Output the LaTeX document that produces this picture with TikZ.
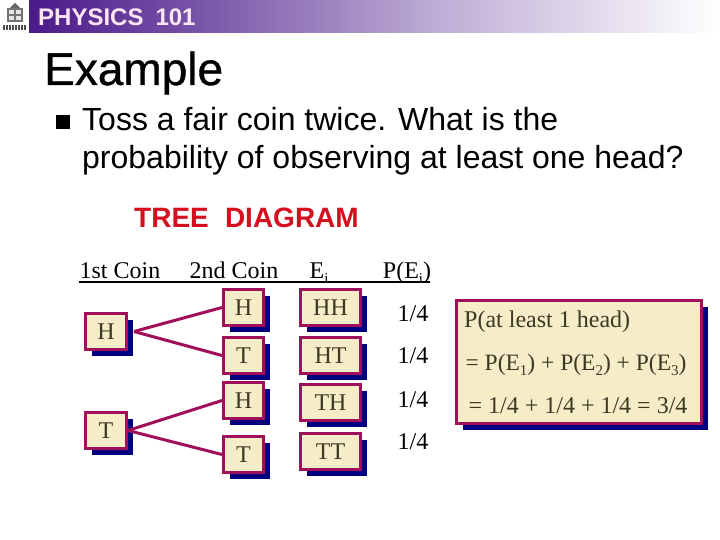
\documentclass[tikz,border=0pt]{standalone}
\usepackage{fontspec}
\setmainfont{Liberation Serif}
\newfontfamily\headfont{Liberation Sans}
\newfontfamily\titlefont[FakeBold=0.8]{Liberation Sans}
\usepackage{tikz}
\usetikzlibrary{shadows}
\definecolor{rimcol}{RGB}{160,16,90}
\definecolor{boxcol}{RGB}{245,236,200}
\definecolor{inkcol}{RGB}{60,56,36}
\definecolor{navycol}{RGB}{0,0,128}
\definecolor{bandcol}{RGB}{74,26,138}
\definecolor{treecol}{RGB}{212,16,30}
\pgfdeclarehorizontalshading{bandfade}{100bp}{color(0bp)=(bandcol); color(25bp)=(bandcol); color(37bp)=(bandcol!75!white); color(55bp)=(bandcol!35!white); color(75bp)=(white); color(100bp)=(white)}
\newcommand{\lowsub}[1]{\raisebox{-5pt}{\fontsize{15}{15}\selectfont #1}}

\begin{document}
\begin{tikzpicture}[x=1pt,y=-1pt]
\tikzstyle{coin} = [draw=rimcol, line width=3pt, fill=boxcol, text=inkcol, font=\fontsize{24}{24}\selectfont, inner sep=0pt, anchor=north west, drop shadow={shadow xshift=6pt, shadow yshift=-6pt, fill=navycol, opacity=1}]
\tikzstyle{link} = [draw=rimcol, line width=3pt]
\tikzstyle{head} = [font=\fontsize{24}{24}\selectfont, anchor=base, inner sep=0pt]
\tikzstyle{prob} = [font=\fontsize{24}{24}\selectfont, anchor=base, inner sep=0pt]
\useasboundingbox (0,0) rectangle (720,540);
\fill[white] (0,0) rectangle (720,540);
% top band
\shade[shading=bandfade] (29,1) rectangle (720,33);
\node[font=\headfont\bfseries\fontsize{24}{24}\selectfont, text=white!90!magenta, anchor=base west, inner sep=0pt] (band) at (38,26) {PHYSICS\hspace{0.5em}101};
% logo
\fill[black!60] (15,3) -- (20,8) -- (10,8) -- cycle;
\draw[black!55, line width=1.5pt, fill=black!10] (8,9) rectangle (22,21);
\draw[black!55, line width=1.5pt] (15,9) -- (15,21) (8,15) -- (22,15);
\draw[black!70, line width=5pt, dash pattern=on 2pt off 1pt] (3,28) -- (26,28);
% title
\node[font=\titlefont\fontsize{46}{46}\selectfont, anchor=base west, inner sep=0pt] (title) at (44,85) {Example};
\fill (56,115) rectangle (70,129);
\node[font=\headfont\fontsize{32}{38}\selectfont, anchor=base west, inner sep=0pt] (toss) at (82,131) {Toss a fair coin twice. What is the};
\node[font=\headfont\fontsize{32}{38}\selectfont, anchor=base west, inner sep=0pt] (probq) at (82,169) {probability of observing at least one head?};
\node[font=\headfont\bfseries\fontsize{28}{28}\selectfont, text=treecol, anchor=base west, inner sep=0pt] (tree) at (134,228) {TREE\hspace{0.3em} DIAGRAM};
% column heads
\node[head] (c1) at (120,278) {1st Coin};
\node[head] (c2) at (234,278) {2nd Coin};
\node[head] (c3) at (319,278) {E\lowsub{i}};
\node[head] (c4) at (407,278) {P(E\lowsub{i})};
\coordinate (rulea) at (79,282);
\coordinate (ruleb) at (430,282);
\draw[line width=2.5pt] (rulea) -- (ruleb);
% first coin
\node[coin, minimum width=41pt, minimum height=36pt] (h) at (84,312) {H};
\node[coin, minimum width=41pt, minimum height=36pt] (t) at (84,411) {T};
% second coin
\node[coin, minimum width=40pt, minimum height=36pt] (hh) at (222,288) {H};
\node[coin, minimum width=40pt, minimum height=36pt] (ht) at (222,336) {T};
\node[coin, minimum width=40pt, minimum height=36pt] (th) at (222,381) {H};
\node[coin, minimum width=40pt, minimum height=36pt] (tt) at (222,435) {T};
% outcomes
\node[coin, minimum width=60pt, minimum height=36pt] (e1) at (299,288) {HH};
\node[coin, minimum width=60pt, minimum height=36pt] (e2) at (299,336) {HT};
\node[coin, minimum width=60pt, minimum height=36pt] (e3) at (299,383) {TH};
\node[coin, minimum width=60pt, minimum height=36pt] (e4) at (299,432) {TT};
\draw[link] ([xshift=6pt]h.east) -- (hh.west);
\draw[link] ([xshift=6pt]h.east) -- (ht.west);
\draw[link] (t.east) -- (th.west);
\draw[link] (t.east) -- (tt.west);
% probabilities
\node[prob] (p1) at (413,321) {1/4};
\node[prob] (p2) at (413,363) {1/4};
\node[prob] (p3) at (413,407) {1/4};
\node[prob] (p4) at (413,449) {1/4};
% result
\node[coin, minimum width=245pt, minimum height=123pt] (res) at (455,299) {};
\node[prob, text=inkcol, anchor=base west] (r1) at (464,327) {P(at least 1 head)};
\node[prob, text=inkcol, font=\fontsize{23.5}{24}\selectfont] (r2) at (576,370) {= P(E\lowsub{1}) + P(E\lowsub{2}) + P(E\lowsub{3})};
\node[prob, text=inkcol] (r3) at (578,413) {= 1/4 + 1/4 + 1/4 = 3/4};
\end{tikzpicture}
\end{document}
